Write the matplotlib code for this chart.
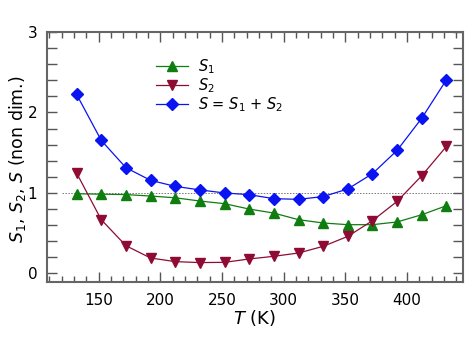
import matplotlib
matplotlib.use("Agg")
import matplotlib.pyplot as plt
from matplotlib.ticker import MultipleLocator

T = [132, 152, 172, 192, 212, 232, 252, 272, 292, 312, 332, 352, 372, 392, 412, 432]
S1 = [0.99, 0.985, 0.98, 0.962, 0.94, 0.90, 0.867, 0.80, 0.75, 0.668, 0.627, 0.606, 0.606, 0.64, 0.73, 0.842]
S2 = [1.248, 0.668, 0.345, 0.192, 0.147, 0.135, 0.138, 0.18, 0.213, 0.254, 0.337, 0.461, 0.656, 0.896, 1.215, 1.579]
S = [2.225, 1.653, 1.314, 1.157, 1.082, 1.038, 1.0, 0.979, 0.929, 0.921, 0.955, 1.05, 1.24, 1.53, 1.93, 2.407]

green = "#0f7d0f"
red = "#8e0c34"
blue = "#0a14f0"

fig = plt.figure(figsize=(4.74, 3.55), dpi=100)
ax = fig.add_axes([47/474, 1-281.5/355, 415.5/474, 249.5/355])

ax.hlines(1.0, 120, 445, colors="#777777", linestyles=(0, (1.5, 1.5)), linewidth=0.7, zorder=1)
ax.plot(T, S1, color=green, marker="^", markersize=7, linewidth=0.9, label=r"$S_{\mathit{1}}$", zorder=3)
ax.plot(T, S2, color=red, marker="v", markersize=7, linewidth=0.9, label=r"$S_{\mathit{2}}$", zorder=3)
ax.plot(T, S, color=blue, marker="D", markersize=6, linewidth=0.9,
        label=r"$S$ = $S_{\mathit{1}}$ + $S_{\mathit{2}}$", zorder=4)

ax.set_xlim(108, 445)
ax.set_ylim(-0.1, 3.0)
ax.xaxis.set_major_locator(MultipleLocator(50))
ax.xaxis.set_minor_locator(MultipleLocator(10))
ax.yaxis.set_major_locator(MultipleLocator(1))
ax.yaxis.set_minor_locator(MultipleLocator(0.2))
ax.set_xticks([150, 200, 250, 300, 350, 400])
ax.tick_params(which="both", direction="in", top=True, right=True, color="#555555", labelsize=11)
ax.tick_params(which="major", length=7, width=1)
ax.tick_params(which="minor", length=4.5, width=1)
ax.tick_params(axis="y", which="minor", length=7)
ax.tick_params(axis="x", which="major", pad=8)
ax.tick_params(axis="y", which="major", pad=7)
for sp in ax.spines.values():
    sp.set_color("#666666")
    sp.set_linewidth(1.5)

ax.set_xlabel(r"$T$ (K)", fontsize=13, labelpad=0)
ax.set_ylabel(r"$S_{\mathit{1}}$, $S_{\mathit{2}}$, $S$ (non dim.)", fontsize=12.5)
ax.yaxis.set_label_coords(-0.045, 0.49)

leg = ax.legend(loc="upper left", bbox_to_anchor=(0.23, 0.95), frameon=False, fontsize=10.5,
                handlelength=2.2, handletextpad=0.7, labelspacing=0.0)

fig.savefig("out.png", dpi=100)
